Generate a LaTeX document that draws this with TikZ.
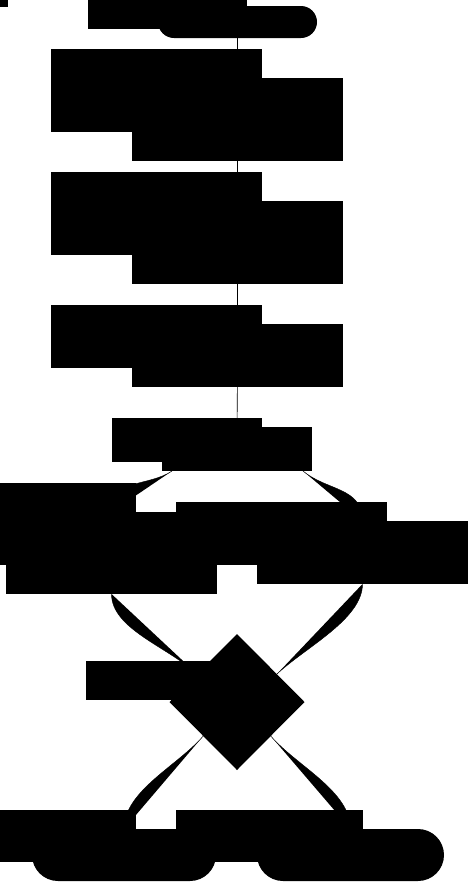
\documentclass[tikz,border=0pt]{standalone}
\usepackage{tikz}
\usetikzlibrary{shapes.geometric}
\tikzset{%
	flow box/.style={
		rectangle,
		fill=black,
		inner sep=0pt,
		outer sep=0pt
	},
	flow tag/.style={
		flow box
	},
	flow end/.style={
		flow box,
		rounded corners=#1
	},
	flow test/.style={
		diamond,
		fill=black,
		inner sep=0pt,
		outer sep=0pt,
		minimum width=135pt,
		minimum height=136pt
	},
	flow line/.style={
		draw=black,
		line width=0.6pt
	},
	flow link/.style={
		draw=black,
		fill=black
	},
}

\begin{document}
\begin{tikzpicture}[x=1pt, y=1pt]
			
			\useasboundingbox (0,0) rectangle (474,-887);
			\clip (0,0) rectangle (474,-887);
			
			% Corner mark
			\fill (0,0) rectangle (8,-7);
			
			% Start
			\node[flow tag, minimum width=159pt, minimum height=52pt] (a tag) at (167.5,-3) {};
			\node[flow end=16pt, minimum width=159pt, minimum height=32pt] (a) at (237.5,-22) {};
			
			% Steps on the main line
			\node[flow tag, minimum width=211pt, minimum height=83pt] (b tag) at (156.5,-90.5) {};
			\node[flow box, minimum width=211pt, minimum height=83pt] (b) at (237.5,-119.5) {};
			\node[flow tag, minimum width=211pt, minimum height=83pt] (c tag) at (156.5,-213.5) {};
			\node[flow box, minimum width=211pt, minimum height=83pt] (c) at (237.5,-242.5) {};
			\node[flow tag, minimum width=211pt, minimum height=63pt] (d tag) at (156.5,-336.5) {};
			\node[flow box, minimum width=211pt, minimum height=63pt] (d) at (237.5,-355.5) {};
			\node[flow tag, minimum width=150pt, minimum height=44pt] (e tag) at (187,-440) {};
			\node[flow box, minimum width=150pt, minimum height=44pt] (e) at (237,-449) {};
			
			% Two branches
			\node[flow tag, minimum width=211pt, minimum height=82pt] (f tag) at (30.5,-524) {};
			\node[flow box, minimum width=211pt, minimum height=82pt] (f) at (111.5,-553) {};
			\node[flow tag, minimum width=211pt, minimum height=63pt] (g tag) at (281.5,-533.5) {};
			\node[flow box, minimum width=211pt, minimum height=63pt] (g) at (362.5,-552.5) {};
			
			% Decision
			\node[flow test] (k) at (237,-702) {};
			\node[flow tag, minimum width=150pt, minimum height=39pt] (k tag) at (161,-680.5) {};
			
			% Ends
			\node[flow tag, minimum width=187pt, minimum height=52pt] (h tag) at (42.5,-836) {};
			\node[flow end=26pt, minimum width=184pt, minimum height=52pt] (h) at (124,-855) {};
			\node[flow tag, minimum width=187pt, minimum height=52pt] (i tag) at (269.5,-836) {};
			\node[flow end=26pt, minimum width=187pt, minimum height=52pt] (i) at (350.5,-855) {};
			
			% Main line
			\draw[flow line] (a) -- (b);
			\draw[flow line] (b) -- (c);
			\draw[flow line] (c) -- (d);
			\draw[flow line] (d) -- (e);
			
			% Bent links
			\draw[flow link] ([xshift=-65pt]e.south) .. controls +(-24,-16) and +(0,34) .. (f.north);
			\draw[flow link] ([xshift=66pt]e.south) .. controls +(24,-20) and +(0,34) .. (g.north);
			\draw[flow link] (f.south) .. controls +(0,-35) and +(-29,27) .. (k.145);
			\draw[flow link] (g.south) .. controls +(0,-35) and +(29,27) .. (k.35);
			\draw[flow link] (k.south west) .. controls +(-26,-30) and +(0,38) .. (h.north);
			\draw[flow link] (k.south east) .. controls +(26,-30) and +(0,38) .. (i.north);
			
		\end{tikzpicture}
\end{document}
